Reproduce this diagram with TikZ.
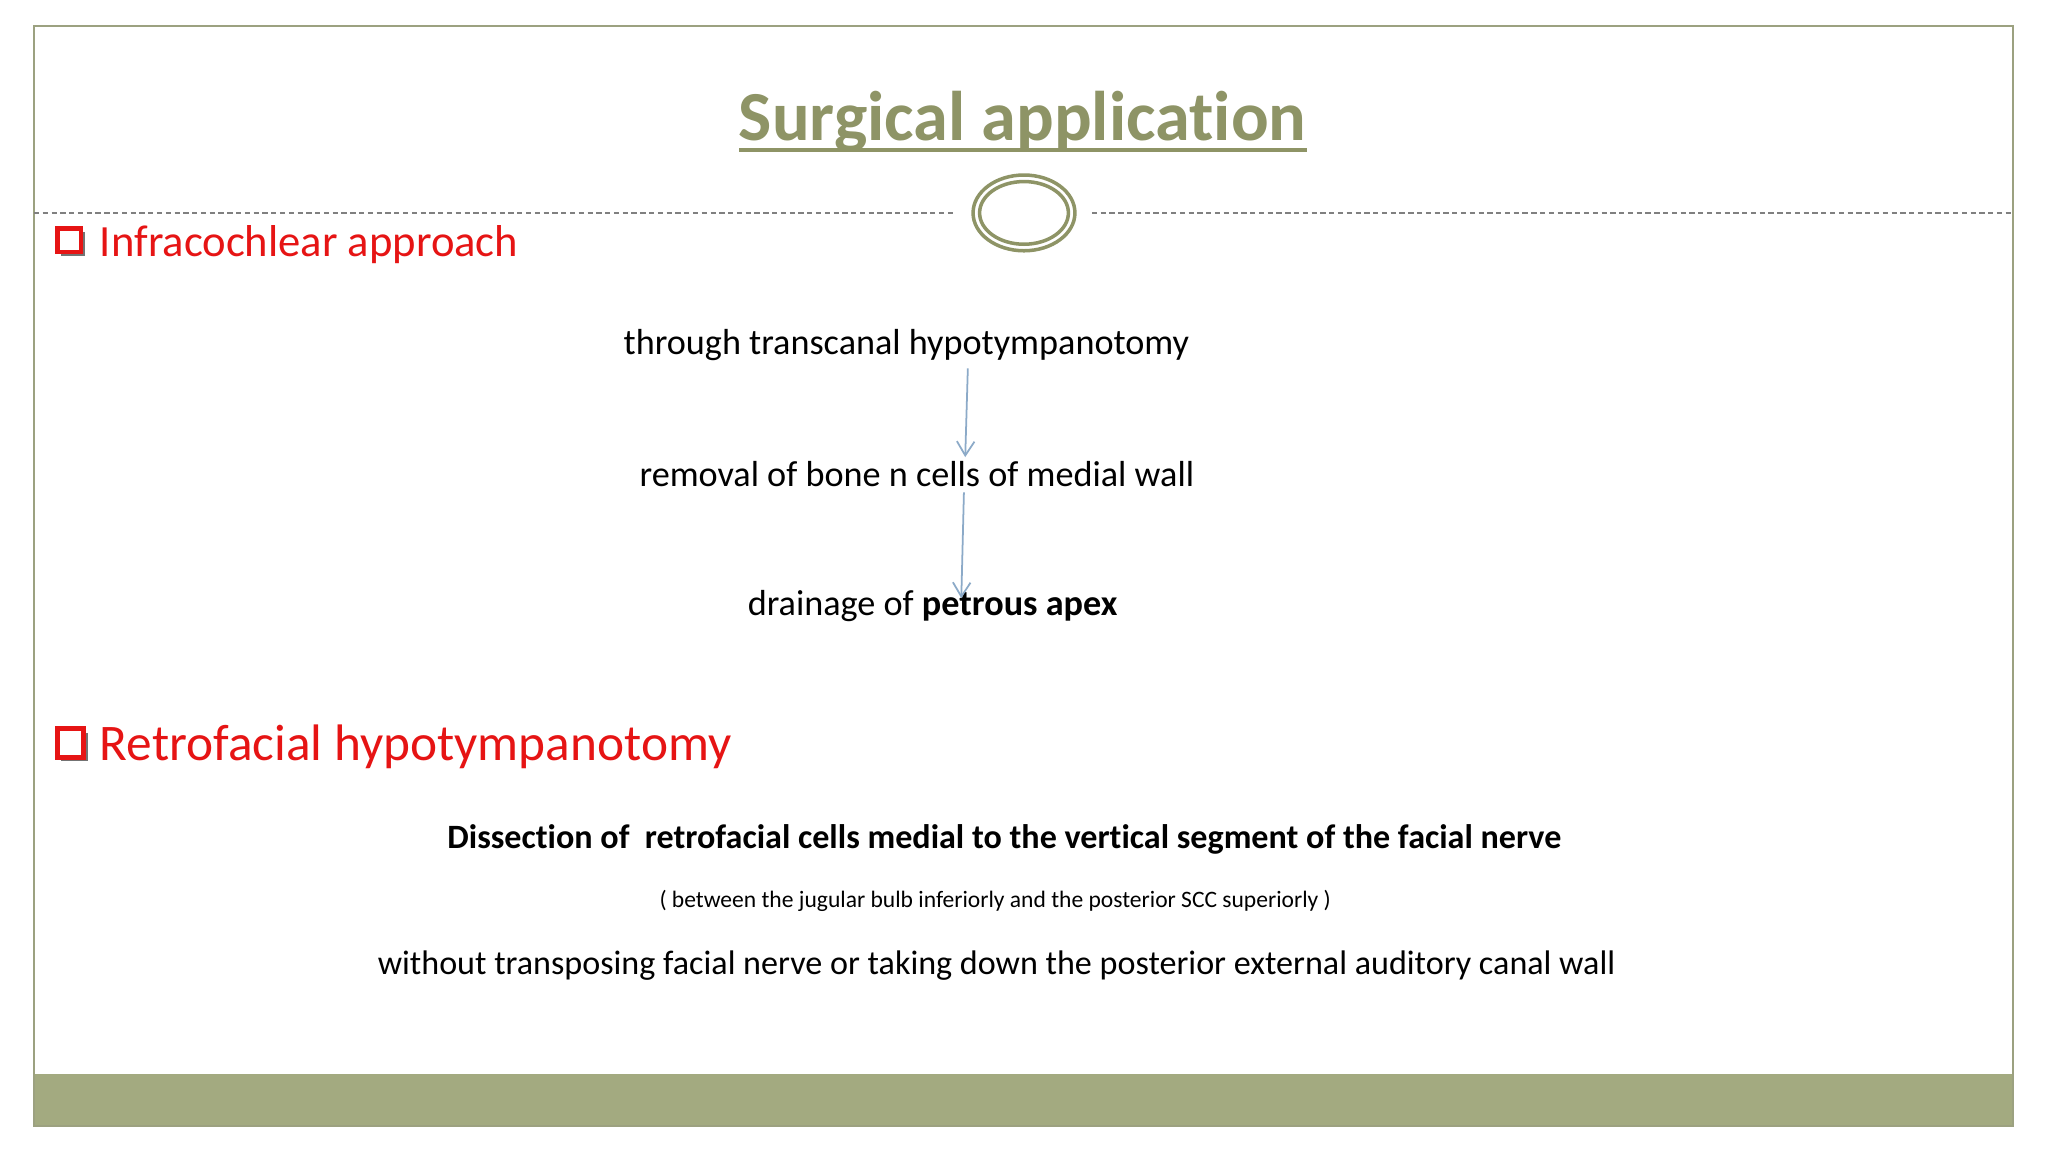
\documentclass[tikz,border=0pt]{standalone}
\usepackage{fontspec}
\setmainfont[Ligatures=NoCommon]{Carlito}
\usetikzlibrary{arrows.meta}
\begin{document}
\begin{tikzpicture}[x=0.013061cm,y=-0.013061cm,
  body/.style={font=\fontsize{10.3pt}{12pt}\selectfont,inner sep=0},
  red/.style={text={rgb,255:red,230;green,20;blue,20},anchor=west,inner sep=0},
  arr/.style={draw={rgb,255:red,140;green,170;blue,200},-{Straight Barb[length=4pt,width=5pt]},line width=0.5pt}]
\useasboundingbox (0,0) rectangle (1568,882);
\fill[white] (0,0) rectangle (1568,882);
\definecolor{olive}{RGB}{163,170,128}
\definecolor{ttl}{RGB}{142,148,102}
\definecolor{rd}{RGB}{230,20,20}
\fill[olive] (26,822) rectangle (1541,862);
\draw[olive!80!gray,line width=0.6pt] (26,20) rectangle (1541,862);
\draw[gray,line width=0.4pt,dash pattern=on 1.5pt off 1pt] (26,163) -- (732,163) (836,163) -- (1541,163);
\draw[ttl,line width=1pt] (784,163) ellipse [x radius=39,y radius=29];
\draw[ttl,line width=1pt] (784,163) ellipse [x radius=34,y radius=24];
\node[text=ttl,font=\fontsize{20pt}{24pt}\selectfont\bfseries,inner sep=0] (title) at (783,93) {Surgical application};
\draw[ttl,line width=1.3pt] (566,115) -- (1001,115);
% bullets
\fill[black!55] (47,178) rectangle (65,196);
\draw[rd,line width=1.2pt,fill=white] (44,175) rectangle (62,193);
\fill[black!55] (47,561) rectangle (67,583);
\draw[rd,line width=1.4pt,fill=white] (44,558) rectangle (64,580);
\node[red,font=\fontsize{12.7pt}{15pt}\selectfont] (h1) at (76,187) {Infracochlear approach};
\node[red,font=\fontsize{14.6pt}{17pt}\selectfont] (h2) at (76,572) {Retrofacial hypotympanotomy};
\node[body] (a) at (694,264) {through transcanal hypotympanotomy};
\node[body] (b) at (702,363) {removal of bone n cells of medial wall};
\node[body] (c) at (714,464) {drainage of \textbf{petrous apex}};
\coordinate (a1) at (741,282); \coordinate (b1) at (739,350);
\coordinate (b2) at (738,377); \coordinate (c1) at (736,458);
\draw[arr] (a1) -- (b1);
\draw[arr] (b2) -- (c1);
\node[body,font=\fontsize{9.7pt}{11pt}\selectfont\bfseries] (d) at (769,643) {Dissection of\ \ retrofacial cells medial to the vertical segment of the facial nerve};
\node[body,font=\fontsize{6.7pt}{8pt}\selectfont] (e) at (762,690) {( between the jugular bulb inferiorly and the posterior SCC superiorly )};
\node[body,font=\fontsize{9.7pt}{11pt}\selectfont] (f) at (763,739) {without transposing facial nerve or taking down the posterior external auditory canal wall};
\end{tikzpicture}
\end{document}
